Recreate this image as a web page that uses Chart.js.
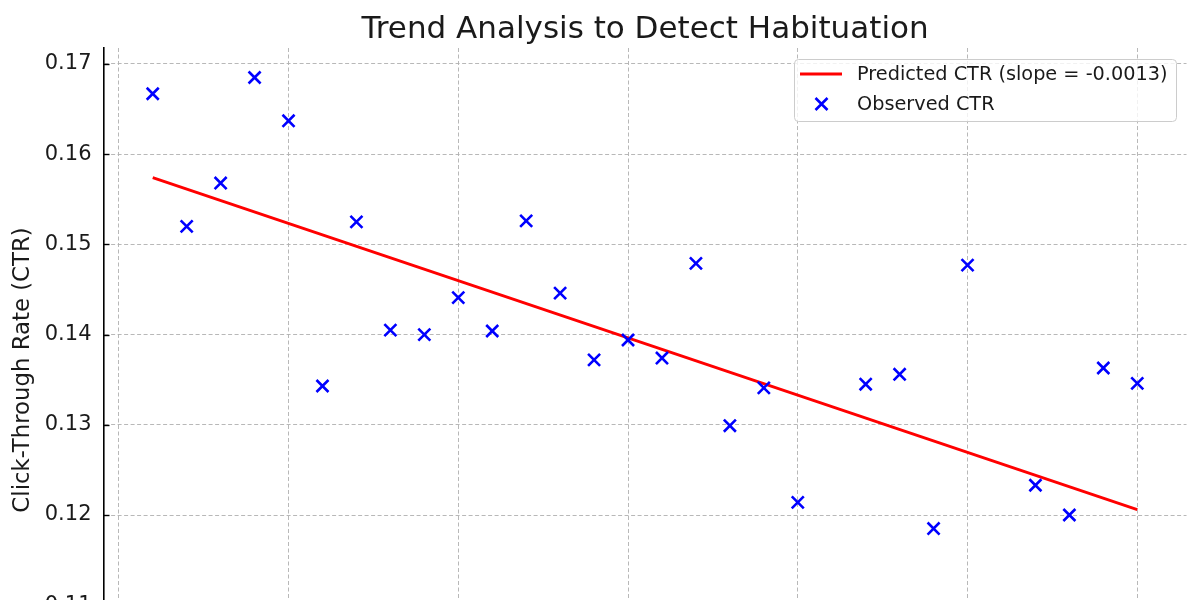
<!DOCTYPE html>
<html>
<head>
<meta charset="utf-8">
<title>Trend Analysis to Detect Habituation</title>
<script src="https://cdn.jsdelivr.net/npm/chart.js@4.4.1/dist/chart.umd.min.js"></script>
<style>
  html, body { margin: 0; padding: 0; background: #ffffff; overflow: hidden; }
  #wrap { width: 1200px; height: 600px; overflow: hidden; }
</style>
</head>
<body>
<div id="wrap">
  <canvas id="trendChart" width="1200" height="780"></canvas>
</div>
<script>
// data
const days = [1, 2, 3, 4, 5, 6, 7, 8, 9, 10, 11, 12, 13, 14, 15,
  16, 17, 18, 19, 20, 21, 22, 23, 24, 25, 26, 27, 28, 29, 30];
const observedCtr = [0.1667, 0.1520, 0.1568, 0.1685, 0.1637, 0.1343, 0.1525, 0.1405, 0.1400, 0.1441,
  0.1404, 0.1526, 0.1446, 0.1372, 0.1394, 0.1374, 0.1479, 0.1299, 0.1341, 0.1214,
  0.1040, 0.1345, 0.1356, 0.1185, 0.1477, 0.1085, 0.1233, 0.1200, 0.1363, 0.1346];
const predictedDays = [1, 30];
const predictedCtr = [0.1574, 0.1206];
const yTickValues = [0.11, 0.12, 0.13, 0.14, 0.15, 0.16, 0.17];
const xTickValues = [0, 5, 10, 15, 20, 25, 30];

const titleText = 'Trend Analysis to Detect Habituation';
const yLabel = 'Click-Through Rate (CTR)';
const lineLabel = 'Predicted CTR (slope = -0.0013)';
const scatterLabel = 'Observed CTR';

const FONT = "'DejaVu Sans', sans-serif";
const TEXT = '#1a1a1a';
const GRID = 'rgba(176,176,176,0.9)';
const DASH = [4, 2.5];

// title, inward y ticks and the boxed legend, matplotlib style
const decorPlugin = {
  id: 'decor',
  afterDraw(chart) {
    const ctx = chart.ctx;
    const area = chart.chartArea;
    const yScale = chart.scales.y;

    ctx.save();
    ctx.fillStyle = TEXT;
    ctx.font = '31px ' + FONT;
    ctx.textAlign = 'center';
    ctx.textBaseline = 'alphabetic';
    ctx.fillText(titleText, (area.left + area.right) / 2, 37.5);

    ctx.strokeStyle = '#000000';
    ctx.lineWidth = 1.4;
    yTickValues.forEach(v => {
      const py = Math.round(yScale.getPixelForValue(v)) + 0.5;
      ctx.beginPath();
      ctx.moveTo(area.left, py);
      ctx.lineTo(area.left + 6, py);
      ctx.stroke();
    });

    // legend box
    const bx = 794.5, by = 59.5, bw = 382, bh = 62, r = 4;
    ctx.beginPath();
    ctx.moveTo(bx + r, by);
    ctx.arcTo(bx + bw, by, bx + bw, by + bh, r);
    ctx.arcTo(bx + bw, by + bh, bx, by + bh, r);
    ctx.arcTo(bx, by + bh, bx, by, r);
    ctx.arcTo(bx, by, bx + bw, by, r);
    ctx.closePath();
    ctx.fillStyle = 'rgba(255,255,255,0.8)';
    ctx.fill();
    ctx.strokeStyle = '#cccccc';
    ctx.lineWidth = 1;
    ctx.stroke();

    ctx.strokeStyle = '#ff0000';
    ctx.lineWidth = 2.8;
    ctx.beginPath();
    ctx.moveTo(800, 74);
    ctx.lineTo(842, 74);
    ctx.stroke();

    const mx = 821.5, my = 104, m = 6;
    ctx.strokeStyle = '#0000ff';
    ctx.lineWidth = 2.6;
    ctx.beginPath();
    ctx.moveTo(mx - m, my - m);
    ctx.lineTo(mx + m, my + m);
    ctx.moveTo(mx - m, my + m);
    ctx.lineTo(mx + m, my - m);
    ctx.stroke();

    ctx.fillStyle = TEXT;
    ctx.font = '19.3px ' + FONT;
    ctx.textAlign = 'left';
    ctx.textBaseline = 'middle';
    ctx.fillText(lineLabel, 857, 75);
    ctx.fillText(scatterLabel, 857, 105);
    ctx.restore();
  }
};

const ctx = document.getElementById('trendChart').getContext('2d');
const data = {
  datasets: [
    {
      type: 'scatter',
      label: scatterLabel,
      data: days.map((d, i) => ({ x: d, y: observedCtr[i] })),
      pointStyle: 'crossRot',
      pointRadius: 8.5,
      pointHoverRadius: 8.5,
      borderColor: '#0000ff',
      backgroundColor: '#0000ff',
      borderWidth: 2.6,
      order: 0,
    },
    {
      type: 'line',
      label: lineLabel,
      data: predictedDays.map((d, i) => ({ x: d, y: predictedCtr[i] })),
      borderColor: '#ff0000',
      borderWidth: 2.8,
      pointRadius: 0,
      fill: false,
      tension: 0,
      order: 1,
    },
  ],
};

const config = {
  data: data,
  options: {
    responsive: false,
    animation: false,
    layout: { padding: { top: 48, right: 13.5, bottom: 38, left: 0 } },
    plugins: {
      legend: { display: false },
      title: { display: false },
      tooltip: { enabled: false },
    },
    scales: {
      x: {
        type: 'linear',
        min: -0.45,
        max: 31.45,
        afterBuildTicks: axis => { axis.ticks = xTickValues.map(v => ({ value: v })); },
        afterFit: scale => { scale.height = 50; },
        grid: { color: GRID, lineWidth: 1, drawTicks: false },
        border: { display: true, color: '#000000', width: 1.5, dash: DASH },
        ticks: { color: TEXT, font: { family: FONT, size: 21 }, padding: 10 },
      },
      y: {
        type: 'linear',
        min: 0.10038,
        max: 0.17177,
        afterBuildTicks: axis => { axis.ticks = yTickValues.map(v => ({ value: v })); },
        afterFit: scale => { scale.width = 103.5; },
        grid: { color: GRID, lineWidth: 1, drawTicks: false },
        border: { display: true, color: '#000000', width: 1.6, dash: DASH },
        ticks: {
          color: TEXT,
          font: { family: FONT, size: 21 },
          padding: 12,
          callback: v => v.toFixed(2),
        },
        title: {
          display: true,
          text: yLabel,
          color: TEXT,
          font: { family: FONT, size: 22.8 },
          padding: { top: 9, bottom: 0 },
        },
      },
    },
  },
  plugins: [decorPlugin],
};

new Chart(ctx, config);
</script>
</body>
</html>
